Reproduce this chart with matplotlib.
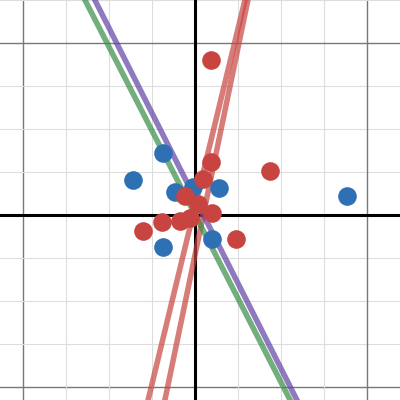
import matplotlib
matplotlib.use("Agg")
import matplotlib.pyplot as plt
import numpy as np

blue_x = [-0.74, -1.44, -0.47, -0.05, 0.56, 3.53, 0.40, -0.74]
blue_y = [1.44, 0.81, 0.53, 0.65, 0.63, 0.44, -0.56, -0.74]
red_x = [0.37, 0.37, 1.74, 0.19, -0.23, 0.07, 0.40, -0.35, -0.77, -1.21, 0.95, -0.12]
red_y = [3.6, 1.23, 1.02, 0.84, 0.44, 0.26, 0.05, -0.14, -0.16, -0.37, -0.56, -0.07]

# lines: slope, intercept, colour
lines = [(4.13, 0.20, "#c74440"), (4.82, -0.93, "#c74440"),
         (-1.98, 0.39, "#6042a6"), (-1.95, 0.01, "#388c46")]

fig = plt.figure(figsize=(4, 4), dpi=100)
ax = fig.add_axes([0, 0, 1, 1])
xmin, xmax, ymin, ymax = -195/43, 205/43, -185/43, 215/43
ax.set_xlim(xmin, xmax)
ax.set_ylim(ymin, ymax)

for v in range(-5, 6):
    c, w = ("#777777", 1.0) if v % 4 == 0 else ("#dddddd", 0.8)
    ax.axvline(v, color=c, lw=w, zorder=0)
    ax.axhline(v, color=c, lw=w, zorder=0)
ax.axhline(0, color="black", lw=2.2, zorder=1)
ax.axvline(0, color="black", lw=2.2, zorder=1)

xs = np.array([xmin, xmax])
for m, b, c in lines:
    ax.plot(xs, m*xs + b, color=c, lw=4, alpha=0.7, zorder=2)

ax.scatter(blue_x, blue_y, s=180, color="#2d70b3", zorder=3, linewidths=0)
ax.scatter(red_x, red_y, s=180, color="#c74440", zorder=4, linewidths=0)

ax.set_xticks([])
ax.set_yticks([])
for s in ax.spines.values():
    s.set_visible(False)
fig.savefig("out.png")
